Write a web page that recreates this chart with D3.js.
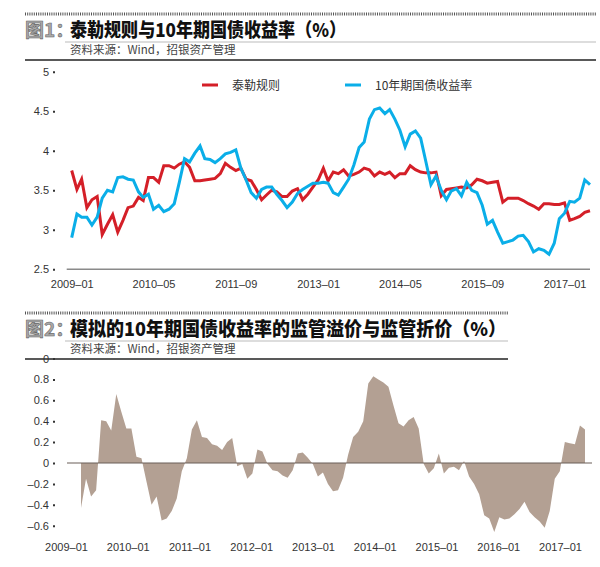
<!DOCTYPE html>
<html lang="zh">
<head>
<meta charset="UTF-8">
<title>泰勒规则与10年期国债收益率</title>
<script src="https://d3js.org/d3.v7.min.js"></script>
<style>
  body { margin: 0; background: #fff; }
  svg { display: block; font-family: "Liberation Sans", Arial, sans-serif; }
  .ttl { font-family: "Noto Sans CJK SC", sans-serif; font-weight: 900; font-size: 19px; fill: #111; }
  .num { font-family: "Noto Sans CJK SC", sans-serif; font-weight: 700; font-size: 19px; fill: #aaa; stroke: #666; stroke-width: 0.6px; }
  .src { font-family: "Noto Sans CJK SC", sans-serif; font-size: 11.5px; fill: #444; }
  .tick text { font-size: 11px; fill: #333; }
  .leg { font-family: "Noto Sans CJK SC", sans-serif; font-size: 12px; fill: #333; }
</style>
</head>
<body>
<svg id="chart" width="600" height="567"></svg>
<script>
// 图1 数据：月度，自 2009-01 起
const startMonth = "2009-01";
const taylor = [3.75,3.51,3.64,3.28,3.38,3.42,2.94,3.07,3.19,2.97,3.12,3.28,3.30,3.41,3.37,3.66,3.66,3.60,3.81,3.81,
  3.78,3.83,3.86,3.79,3.62,3.62,3.63,3.64,3.65,3.71,3.84,3.79,3.75,3.78,3.64,3.62,3.51,3.38,3.44,3.50,
  3.48,3.42,3.42,3.49,3.52,3.38,3.45,3.54,3.63,3.78,3.62,3.73,3.71,3.76,3.68,3.70,3.73,3.78,3.76,3.68,
  3.73,3.70,3.73,3.66,3.71,3.71,3.81,3.76,3.73,3.72,3.72,3.73,3.43,3.51,3.52,3.53,3.54,3.53,3.57,3.64,
  3.62,3.59,3.60,3.61,3.35,3.40,3.40,3.40,3.37,3.33,3.30,3.26,3.33,3.33,3.32,3.32,3.34,3.12,3.14,3.17,
  3.22,3.24];
const yield10 = [2.90,3.20,3.16,3.16,3.06,3.16,3.40,3.50,3.48,3.66,3.67,3.64,3.63,3.48,3.41,3.45,3.26,3.31,3.23,3.26,
  3.33,3.60,3.90,3.86,3.97,4.06,3.90,3.89,3.85,3.90,3.96,3.98,4.01,3.78,3.63,3.47,3.40,3.51,3.54,3.54,
  3.45,3.37,3.28,3.35,3.46,3.51,3.55,3.59,3.59,3.60,3.59,3.47,3.44,3.54,3.64,3.82,4.04,4.11,4.40,4.52,
  4.54,4.47,4.52,4.40,4.26,4.05,4.21,4.25,4.16,3.87,3.57,3.68,3.50,3.38,3.49,3.52,3.43,3.60,3.50,3.47,
  3.31,3.07,3.12,2.97,2.83,2.85,2.87,2.92,2.93,2.85,2.72,2.76,2.74,2.69,2.83,3.14,3.21,3.36,3.35,3.40,
  3.63,3.57];
const topLabels = ["2009-01","2010-05","2011-09","2013-01","2014-05","2015-09","2017-01"];
const topTicks = [5, 4.5, 4, 3.5, 3, 2.5];
const seriesNames = ["泰勒规则", "10年期国债收益率"];

// 图2 数据
const premium = [-0.43,-0.15,-0.32,-0.26,0.41,0.40,0.31,0.66,0.49,0.33,0.33,0.06,0.045,-0.18,-0.40,-0.32,-0.55,-0.53,-0.46,-0.34,
  -0.08,0.045,0.32,0.41,0.25,0.24,0.18,0.165,0.125,0.20,0.24,-0.03,-0.01,-0.15,-0.10,0.13,0.11,-0.01,-0.07,-0.08,
  -0.12,-0.14,-0.07,0.09,0.10,0.05,-0.01,-0.13,-0.09,-0.20,-0.27,-0.26,-0.14,0.08,0.25,0.30,0.40,0.76,0.83,0.80,
  0.77,0.73,0.55,0.38,0.35,0.41,0.44,0.33,-0.01,-0.10,-0.05,0.09,-0.10,-0.045,-0.035,-0.07,0.02,-0.13,-0.20,-0.30,
  -0.50,-0.53,-0.66,-0.52,-0.54,-0.53,-0.49,-0.44,-0.37,-0.47,-0.52,-0.56,-0.62,-0.46,-0.15,-0.08,0.20,0.19,0.18,0.36,
  0.32];
const bottomLabels = ["2009–01","2010–01","2011–01","2012–01","2013–01","2014–01","2015–01","2016–01","2017–01"];
const bottomTicks = [1, 0.8, 0.6, 0.4, 0.2, 0, -0.2, -0.4, -0.6];
const bottomTickText = ["0","0.8","0.6","0.4","0.2","0","–0.2","–0.4","–0.6"];

const svg = d3.select("#chart");
const parseMonth = d3.timeParse("%Y-%m");

function header(y, num, title, titleLen, lineEnd) {
  // 点线
  svg.append("line").attr("x1", 25).attr("x2", lineEnd).attr("y1", y).attr("y2", y)
    .attr("stroke", "#555").attr("stroke-width", 3).attr("stroke-dasharray", "1 1.2");
  svg.append("text").attr("class", "num").attr("x", 25).attr("y", y + 23).text("图" + num + "：");
  svg.append("text").attr("class", "ttl").attr("x", 70).attr("y", y + 23)
    .attr("textLength", titleLen).attr("lengthAdjust", "spacingAndGlyphs").text(title);
  svg.append("line").attr("x1", 65).attr("x2", lineEnd).attr("y1", y + 28).attr("y2", y + 28)
    .attr("stroke", "#bbb").attr("stroke-width", 1);
  svg.append("text").attr("class", "src").attr("x", 70).attr("y", y + 40).text("资料来源：Wind，招银资产管理");
  svg.append("line").attr("x1", 25).attr("x2", lineEnd).attr("y1", y + 46).attr("y2", y + 46)
    .attr("stroke", "#222").attr("stroke-width", 1.5);
}

header(14, "1", "泰勒规则与10年期国债收益率（%）", 276, 596);
header(313, "2", "模拟的10年期国债收益率的监管溢价与监管折价（%）", 436, 508);

// ---------- 图1 ----------
const t0 = parseMonth(startMonth);
const dates = taylor.map((d, i) => d3.timeMonth.offset(t0, i));
const x1 = d3.scaleTime().domain([dates[0], dates[dates.length - 1]]).range([71.7, 590]);
const y1 = d3.scaleLinear().domain([2.5, 5]).range([269.3, 71.7]);

svg.append("g").attr("transform", "translate(55,0)")
  .call(d3.axisLeft(y1).tickValues(topTicks).tickSize(2).tickPadding(4).tickFormat(d3.format("")))
  .call(g => g.select(".domain").remove())
  .call(g => g.selectAll(".tick line").attr("stroke", "#333").attr("stroke-width", 2));

svg.append("line").attr("x1", x1.range()[0] - 5).attr("x2", x1.range()[1])
  .attr("y1", y1(2.5)).attr("y2", y1(2.5)).attr("stroke", "#8a8a8a").attr("stroke-width", 1.5);

svg.append("g").attr("transform", `translate(0,${y1(2.5)})`)
  .call(d3.axisBottom(x1).tickValues(topLabels.map(parseMonth)).tickSize(0).tickPadding(11)
    .tickFormat(d3.timeFormat("%Y–%m")))
  .call(g => g.select(".domain").remove());

const line1 = d3.line().x((d, i) => x1(dates[i])).y(d => y1(d));
const colors = ["#d41f28", "#0aaee8"];
[taylor, yield10].forEach((s, k) => {
  svg.append("path").datum(s).attr("d", line1).attr("fill", "none")
    .attr("stroke", colors[k]).attr("stroke-width", 3).attr("stroke-linejoin", "miter");
});

// 图例
const legX = [202, 345];
seriesNames.forEach((n, k) => {
  svg.append("line").attr("x1", legX[k]).attr("x2", legX[k] + 16).attr("y1", 85).attr("y2", 85)
    .attr("stroke", colors[k]).attr("stroke-width", 3);
  svg.append("text").attr("class", "leg").attr("x", legX[k] + 30).attr("y", 89.5).text(n);
});

// ---------- 图2 ----------
const x2 = d3.scaleLinear().domain([0, premium.length - 1]).range([81, 585]);
const y2 = d3.scaleLinear().domain([-0.6, 1]).range([525.7, 358.5]);
const xl2 = d3.scalePoint().domain(bottomLabels).range([66, 560]);

svg.append("g").attr("transform", "translate(55,0)")
  .call(d3.axisLeft(y2).tickValues(bottomTicks).tickSize(2).tickPadding(4)
    .tickFormat((d, i) => bottomTickText[i]))
  .call(g => g.select(".domain").remove())
  .call(g => g.selectAll(".tick line").attr("stroke", "#333").attr("stroke-width", 2));

const area = d3.area().x((d, i) => x2(i)).y0(y2(0)).y1(d => y2(d));
svg.append("path").datum(premium).attr("d", area).attr("fill", "#b3a093");

svg.append("line").attr("x1", 67).attr("x2", 592).attr("y1", y2(0)).attr("y2", y2(0))
  .attr("stroke", "#6b5f58").attr("stroke-width", 1.2);

svg.append("g").attr("transform", "translate(0,536)")
  .call(d3.axisBottom(xl2).tickSize(0).tickPadding(7))
  .call(g => g.select(".domain").remove());
</script>
</body>
</html>
